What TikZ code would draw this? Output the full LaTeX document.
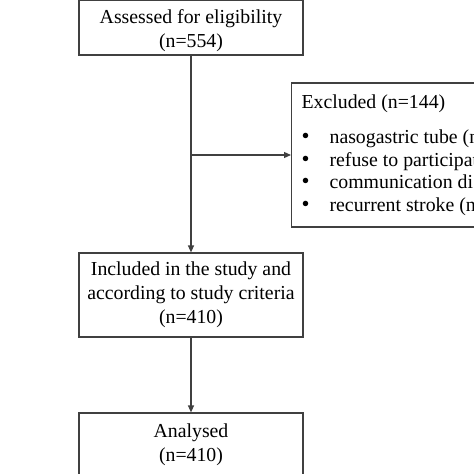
\documentclass[tikz,border=0pt]{standalone}
\usepackage{fontspec}
\setmainfont{Liberation Serif}
\usetikzlibrary{arrows.meta, positioning}

\newcommand{\exbullet}{\makebox[28pt][l]{\raisebox{-0.3pt}{\scalebox{1.15}{\textbullet}}}}

\begin{document}
\begin{tikzpicture}[x=1pt, y=1pt,
  stage/.style={draw=black!75, line width=1.2pt, minimum width=224pt, align=flush center, inner sep=0pt, font=\fontsize{19.8}{24}\selectfont},
  sidebox/.style={draw=black!75, line width=1.2pt, text width=220pt, inner xsep=10pt, inner ysep=0pt, minimum height=144pt, align=flush left, anchor=west, font=\fontsize{19.8}{22.5}\selectfont},
  flow/.style={-{Triangle[length=7pt, width=6pt]}, draw=black!75, line width=1.2pt}
]
  \def\midx{191}
  \def\splity{-155}
  \useasboundingbox (0,0) rectangle (474,-474);
  \clip (0,0) rectangle (474,-474);

  \node[stage, minimum height=55pt] (assess) at (\midx,-27.5) {\rule{0pt}{20pt}Assessed for eligibility\\(n=554)};
  \node[stage, minimum height=84pt] (incl) at (\midx,-295) {Included in the study and\\according to study criteria\\(n=410)};
  \node[stage, minimum height=64pt] (anal) at (\midx,-445) {Analysed\\(n=410)};
  \node[sidebox] (excl) at (291,\splity) {Excluded (n=144)\\[12.5pt]
    \exbullet nasogastric tube (n\\
    \exbullet refuse to participat\\
    \exbullet communication di\\
    \exbullet recurrent stroke (n};

  \coordinate (split) at (\midx,\splity);
  \draw[flow] (assess) -- (incl);
  \draw[flow] (split) -- (excl);
  \draw[flow] (incl) -- (anal);
\end{tikzpicture}
\end{document}
